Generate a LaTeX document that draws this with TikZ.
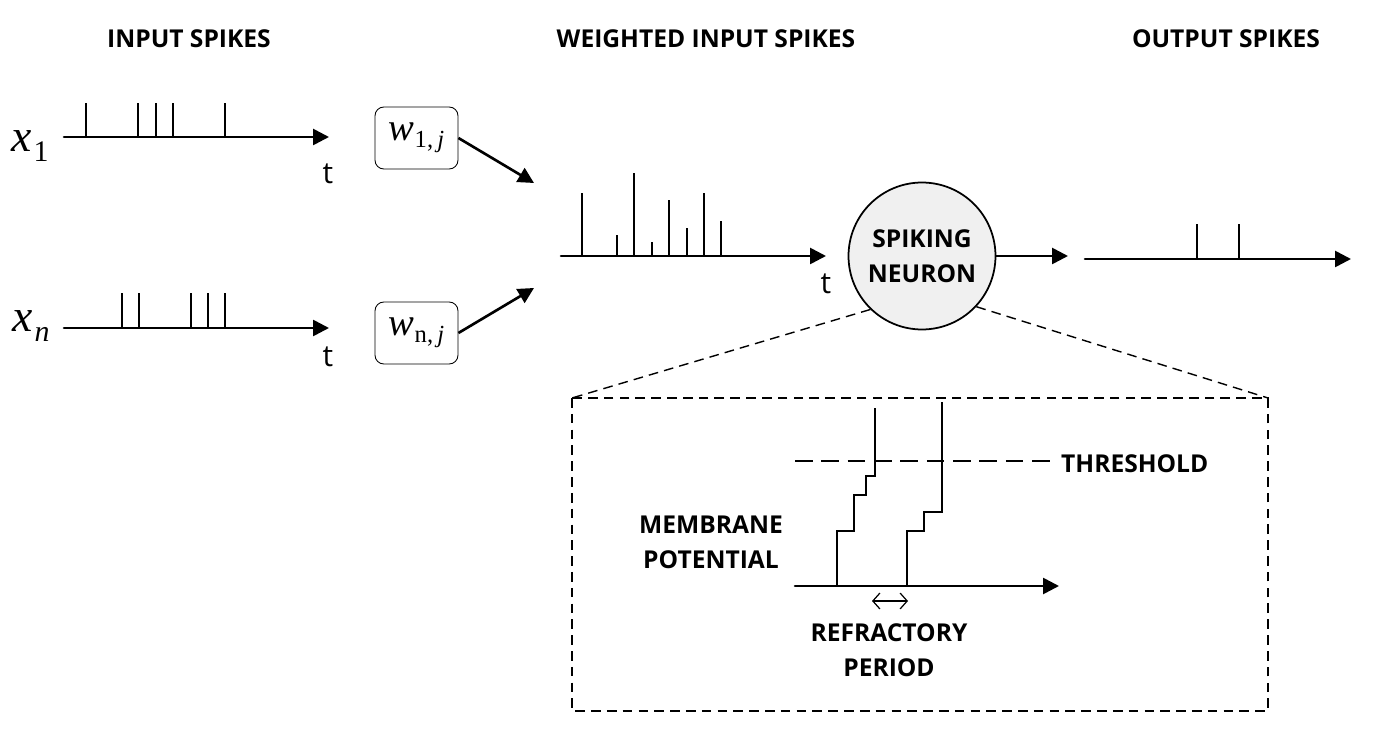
\documentclass[tikz,border=0pt]{standalone}
\usepackage{fontspec}
\setmainfont{Open Sans}
\newfontfamily\tnr{Liberation Serif}
\usepackage{tkz-euclide}
\usetikzlibrary{arrows.meta}
\tikzset{
  axis/.style={line width=1.5pt,-{Triangle[length=9pt,width=9pt]}},
  spike/.style={line width=1pt},
  pot/.style={line width=1pt},
  head/.style={font=\fontsize{14}{20}\selectfont\bfseries,align=center},
  tlab/.style={font=\fontsize{17}{18}\selectfont},
  wbox/.style={draw,line width=0.5pt,rounded corners=5pt,minimum width=1.66cm,minimum height=1.24cm,inner sep=0pt},
  zoomline/.style={line width=0.8pt,dash pattern=on 5.5pt off 3.5pt}
}
\begin{document}
\begin{tikzpicture}[x=0.02cm,y=-0.02cm]
\useasboundingbox (0,0) rectangle (1400,736);
% headers
\node[head] (hin) at (189,39) {INPUT SPIKES};
\node[head] (hw) at (706,39) {WEIGHTED INPUT SPIKES};
\node[head] (hout) at (1226,39) {OUTPUT SPIKES};
% input trains
\tkzDefPoint(64,137){s_{1}}\tkzDefPoint(329,137){t_{1}}
\tkzDefPoint(64,328){s_{n}}\tkzDefPoint(329,328){t_{n}}
\tkzDrawSegments[axis](s_{1},t_{1} s_{n},t_{n})
\draw[spike] (86,137)--(86,103) (138,137)--(138,103) (156,137)--(156,103)
  (173,137)--(173,103) (225,137)--(225,103);
\draw[spike] (122,328)--(122,293) (139,328)--(139,293) (191,328)--(191,293)
  (208,328)--(208,293) (225,328)--(225,293);
\node (x_{1}) at (30,146) {\tnr\fontsize{26}{30}\selectfont\itshape x\kern1pt\raisebox{-6pt}{\fontsize{17}{20}\selectfont\upshape 1}};
\node (x_{n}) at (31,326) {\tnr\fontsize{26}{30}\selectfont\itshape x\kern1pt\raisebox{-6pt}{\fontsize{17}{20}\selectfont n}};
\node[tlab] (t1) at (328,174) {t};
\node[tlab] (tn) at (328,357) {t};
% weights
\node[wbox] (w_{1}) at (416.5,138) {\tnr\fontsize{22}{26}\selectfont\itshape w\raisebox{-4pt}{\fontsize{14}{16}\selectfont\upshape 1,\,\itshape j}};
\node[wbox] (w_{n}) at (416.5,333) {\tnr\fontsize{22}{26}\selectfont\itshape w\raisebox{-4pt}{\fontsize{14}{16}\selectfont\upshape n,\,\itshape j}};
\tkzDefPoint(534,183){a_{1}}\tkzDefPoint(534,288){a_{n}}
\draw[axis] (w_{1}.east) -- (a_{1});
\draw[axis] (w_{n}.east) -- (a_{n});
% weighted train
\tkzDefPoint(561,256){s_{w}}\tkzDefPoint(826,256){t_{w}}
\tkzDrawSegments[axis](s_{w},t_{w})
\draw[spike] (582,256)--(582,193) (617,256)--(617,235) (634,256)--(634,173)
  (652,256)--(652,242) (669,256)--(669,200) (687,256)--(687,228)
  (704,256)--(704,193) (721,256)--(721,221);
\node[tlab] (tw) at (826,284) {t};
% neuron
\node[circle,draw,line width=1pt,fill=gray!12,minimum size=2.94cm,head] (neuron) at (922,256) {SPIKING\\NEURON};
\tkzDefPoint(1068,256){a_{o}}
\draw[axis] (neuron.east) -- (a_{o});
% output train
\tkzDefPoint(1085,259){s_{o}}\tkzDefPoint(1351,259){t_{o}}
\tkzDrawSegments[axis](s_{o},t_{o})
\draw[spike] (1197,259)--(1197,224) (1239,259)--(1239,224);
% zoom box
\tkzDefPoint(572,398){b_{L}}\tkzDefPoint(1268,398){b_{R}}
\draw[zoomline] (b_{L}) rectangle (1268,711);
\draw[zoomline] (neuron.226) -- (b_{L});
\draw[zoomline] (neuron.317) -- (b_{R});
% membrane potential
\tkzDefPoint(795,586){s_{m}}\tkzDefPoint(1059,586){t_{m}}
\tkzDrawSegments[axis](s_{m},t_{m})
\tkzDefPoint(795,461){h_{L}}\tkzDefPoint(1050,461){h_{R}}
\draw[line width=1pt,dash pattern=on 10pt off 5pt] (h_{L}) -- (h_{R});
\draw[pot] (837,586) |- (854,531) |- (866,495) |- (875,476) -- (875,408);
\draw[pot] (907,586) |- (924,531) |- (942,512) -- (942,402);
\node[head,anchor=west] (thr) at (1055,464) {THRESHOLD};
\node[head] (mem) at (711,542) {MEMBRANE\\POTENTIAL};
\node[head] (ref) at (889,650) {REFRACTORY\\PERIOD};
\tkzDefPoint(872,601){r_{L}}\tkzDefPoint(908,601){r_{R}}
\draw[line width=0.7pt,{Straight Barb[length=4pt,width=9pt]}-{Straight Barb[length=4pt,width=9pt]}] (r_{L}) -- (r_{R});
\end{tikzpicture}
\end{document}
